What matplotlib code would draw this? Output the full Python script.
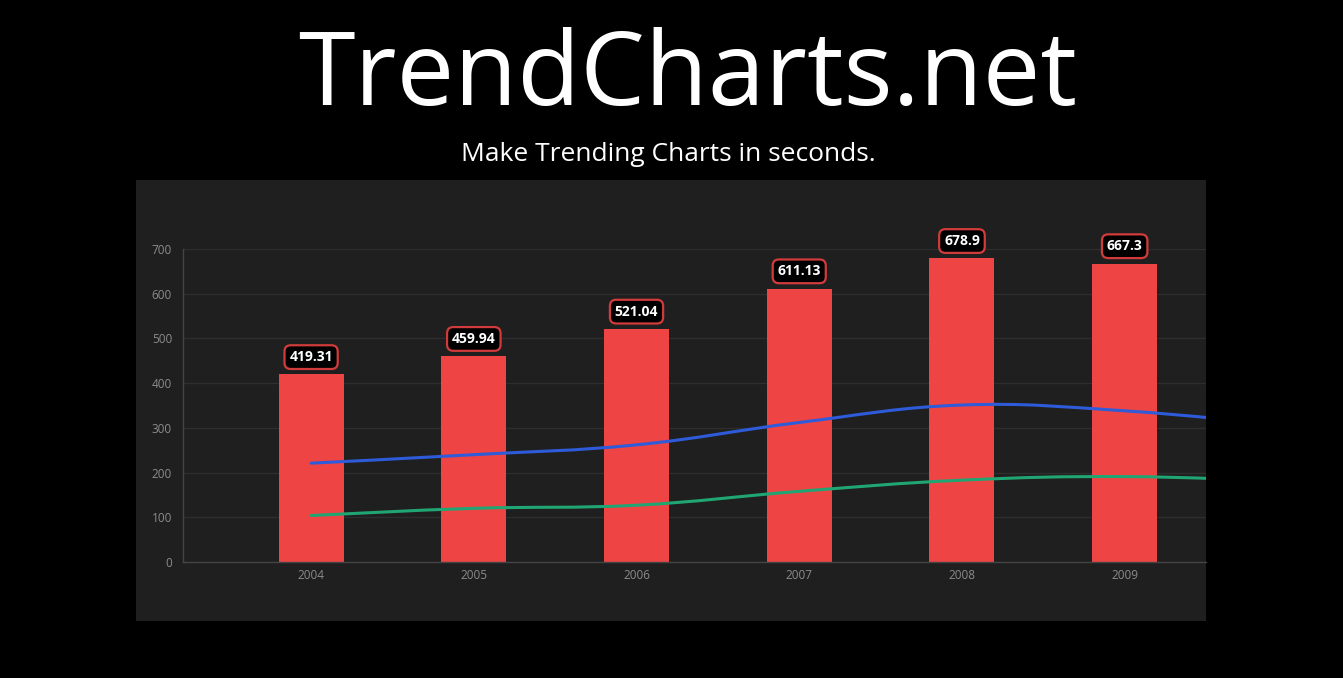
import numpy as np
import matplotlib
matplotlib.use("Agg")
import matplotlib.pyplot as plt
from matplotlib.patches import Rectangle, PathPatch
from matplotlib.path import Path

# data
years = ["2004", "2005", "2006", "2007", "2008", "2009"]
bar_values = [419.31, 459.94, 521.04, 611.13, 678.9, 667.3]
# the two lines carry on past the cropped right edge (one more point)
blue_values = [221, 240, 262, 312, 351, 338, 305]
green_values = [104, 120, 127, 158, 183, 191, 180]
y_ticks = [0, 100, 200, 300, 400, 500, 600, 700]

BG = "#000000"
PANEL = "#1f1f1f"
BAR = "#ef4444"
BLUE = "#2d5bd9"
GREEN = "#1fa673"


def smooth_path(xs, ys, tension=0.4):
    # cubic bezier through the points, chart.js style
    pts = np.column_stack([xs, ys]).astype(float)
    n = len(pts)
    verts = [pts[0]]
    codes = [Path.MOVETO]
    for i in range(n - 1):
        p0 = pts[max(i - 1, 0)]
        p1 = pts[i]
        p2 = pts[i + 1]
        p3 = pts[min(i + 2, n - 1)]
        c1 = p1 + tension / 2 * (p2 - p0)
        c2 = p2 - tension / 2 * (p3 - p1)
        verts += [c1, c2, p2]
        codes += [Path.CURVE4] * 3
    return Path(verts, codes)


fig = plt.figure(figsize=(13.43, 6.78), dpi=100, facecolor=BG)

# dark chart panel
fig.patches.append(Rectangle((0.1013, 0.0841), 0.7967, 0.6504,
                             transform=fig.transFigure, facecolor=PANEL,
                             edgecolor="none", zorder=0))

fig.text(0.512, 0.845, "TrendCharts.net", color="white", fontsize=74,
         family="Open Sans", ha="center", va="baseline")
fig.text(0.4975, 0.7625, "Make Trending Charts in seconds.", color="white",
         fontsize=19, family="Open Sans", ha="center", va="baseline")

ax = fig.add_axes([0.1363, 0.1711, 0.7617, 0.4617])
ax.set_zorder(2)
ax.set_facecolor(PANEL)
ax.patch.set_alpha(0)

x = np.arange(len(years))
ax.bar(x, bar_values, width=0.4, color=BAR, zorder=2)

xl = np.arange(len(blue_values))
for vals, col in [(blue_values, BLUE), (green_values, GREEN)]:
    ax.add_patch(PathPatch(smooth_path(xl, vals), facecolor="none",
                           edgecolor=col, lw=2.2, zorder=3, capstyle="round"))

for xi, v in zip(x, bar_values):
    ax.annotate(f"{v:g}", (xi, v), xytext=(0, 12.5), textcoords="offset points",
                ha="center", va="center", color="white", fontsize=10,
                family="Open Sans", fontweight="bold", annotation_clip=False,
                zorder=5,
                bbox=dict(boxstyle="round,pad=0.35,rounding_size=0.45",
                          facecolor="black", edgecolor="#d23b3b", lw=1.6))

ax.set_xlim(-0.787, 5.5)
ax.set_ylim(0, 700)
ax.set_xticks(x)
ax.set_xticklabels(years)
ax.set_yticks(y_ticks)
ax.tick_params(length=0, colors="#8c8c8c", labelsize=8.5)
ax.tick_params(axis="y", pad=8)
ax.tick_params(axis="x", pad=5)
for lab in ax.get_xticklabels() + ax.get_yticklabels():
    lab.set_family("Open Sans")
ax.grid(axis="y", color="#2e2e2e", lw=1, zorder=0)
ax.set_axisbelow(True)
for s in ["top", "right"]:
    ax.spines[s].set_visible(False)
for s in ["left", "bottom"]:
    ax.spines[s].set_color("#444444")
    ax.spines[s].set_linewidth(1)

fig.savefig("out.png", dpi=100, facecolor=BG)
